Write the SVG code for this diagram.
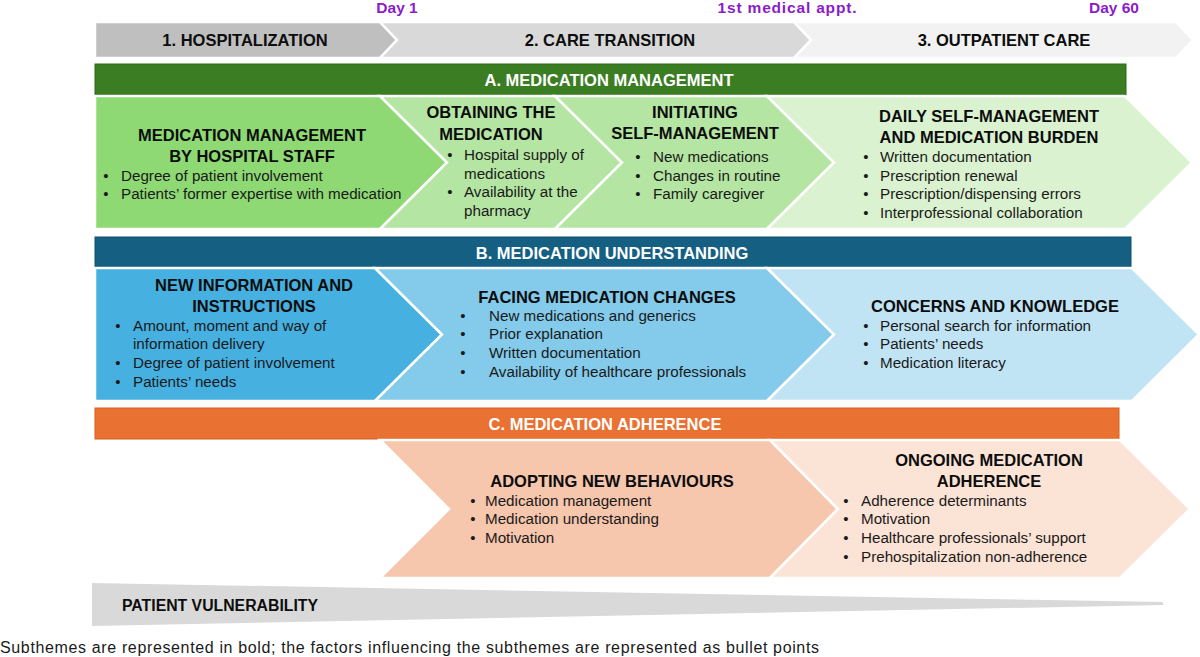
<svg xmlns="http://www.w3.org/2000/svg" width="1200" height="657" viewBox="0 0 1200 657">
<style>
text{font-family:"Liberation Sans",Arial,sans-serif}
.ph{font-size:16.5px;font-weight:bold;fill:#0d0d0d;text-anchor:middle}
.day{font-size:15.5px;font-weight:bold;fill:#8b1cc8;text-anchor:middle}
.band{font-size:16.5px;font-weight:bold;fill:#fff;text-anchor:middle}
.ti{font-size:16.5px;font-weight:bold;fill:#0d0d0d;text-anchor:middle}
.bu{font-size:15.2px;fill:#1a1a1a}
.dot{font-size:15px;fill:#1a1a1a;text-anchor:middle}
.chev{stroke:#fff;stroke-width:2.5;stroke-linejoin:miter}
</style>
<rect width="1200" height="657" fill="#fff"/>

<g id="phases">
<polygon class="chev" points="95,22 380,22 397,40 380,58 95,58" fill="#bfbfbf"/>
<polygon class="chev" points="380,22 794,22 811,40 794,58 380,58 397,40" fill="#d9d9d9"/>
<polygon class="chev" points="794,22 1176,22 1193,40 1176,58 794,58 811,40" fill="#f2f2f2"/>
<text class="ph" x="245" y="46">1. HOSPITALIZATION</text>
<text class="ph" x="610" y="46">2. CARE TRANSITION</text>
<text class="ph" x="1004" y="46">3. OUTPATIENT CARE</text>
<text class="day" x="397" y="13">Day 1</text>
<text class="day" x="787" y="13" textLength="139">1st medical appt.</text>
<text class="day" x="1114" y="13">Day 60</text>
</g>

<g id="bandA">
<rect x="95" y="64" width="1031" height="31" fill="#3b7d23" stroke="#2f6a1b" stroke-width="1"/>
<text class="band" x="609" y="86">A. MEDICATION MANAGEMENT</text>
</g>
<g id="A1">
<polygon class="chev" points="95,96 380,96 447,162.5 380,229 95,229" fill="#8ed973"/>
<text class="ti" x="252" y="141">MEDICATION MANAGEMENT</text>
<text class="ti" x="252" y="162">BY HOSPITAL STAFF</text>
<text class="dot" x="106" y="181">•</text><text class="bu" x="121" y="181">Degree of patient involvement</text>
<text class="dot" x="106" y="199">•</text><text class="bu" x="121" y="199">Patients’ former expertise with medication</text>
</g>
<g id="A2">
<polygon class="chev" points="380,96 555,96 622,162.5 555,229 380,229 447,162.5" fill="#b4e5a2"/>
<text class="ti" x="491" y="118">OBTAINING THE</text>
<text class="ti" x="491" y="140">MEDICATION</text>
<text class="dot" x="450" y="160">•</text><text class="bu" x="464" y="160">Hospital supply of</text>
<text class="bu" x="464" y="178.5">medications</text>
<text class="dot" x="450" y="197">•</text><text class="bu" x="464" y="197">Availability at the</text>
<text class="bu" x="464" y="215.5">pharmacy</text>
</g>
<g id="A3">
<polygon class="chev" points="555,96 767,96 834,162.5 767,229 555,229 622,162.5" fill="#b4e5a2"/>
<text class="ti" x="695" y="118">INITIATING</text>
<text class="ti" x="695" y="139">SELF-MANAGEMENT</text>
<text class="dot" x="638" y="162">•</text><text class="bu" x="653" y="162">New medications</text>
<text class="dot" x="638" y="181">•</text><text class="bu" x="653" y="181">Changes in routine</text>
<text class="dot" x="638" y="199">•</text><text class="bu" x="653" y="199">Family caregiver</text>
</g>
<g id="A4">
<polygon class="chev" points="767,96 1125,96 1192,162.5 1125,229 767,229 834,162.5" fill="#daf2d0"/>
<text class="ti" x="989" y="122">DAILY SELF-MANAGEMENT</text>
<text class="ti" x="989" y="143">AND MEDICATION BURDEN</text>
<text class="dot" x="866" y="162">•</text><text class="bu" x="880" y="162">Written documentation</text>
<text class="dot" x="866" y="181">•</text><text class="bu" x="880" y="181">Prescription renewal</text>
<text class="dot" x="866" y="199">•</text><text class="bu" x="880" y="199">Prescription/dispensing errors</text>
<text class="dot" x="866" y="218">•</text><text class="bu" x="880" y="218">Interprofessional collaboration</text>
</g>

<g id="bandB">
<rect x="95" y="237" width="1036" height="30" fill="#156082" stroke="#114f6c" stroke-width="1"/>
<text class="band" x="612" y="259">B. MEDICATION UNDERSTANDING</text>
</g>
<g id="B1">
<polygon class="chev" points="95,268 375,268 442,334.5 375,401 95,401" fill="#46b0e1"/>
<text class="ti" x="254" y="291">NEW INFORMATION AND</text>
<text class="ti" x="254" y="312">INSTRUCTIONS</text>
<text class="dot" x="118" y="331">•</text><text class="bu" x="133" y="331">Amount, moment and way of</text>
<text class="bu" x="133" y="349">information delivery</text>
<text class="dot" x="118" y="368">•</text><text class="bu" x="133" y="368">Degree of patient involvement</text>
<text class="dot" x="118" y="387">•</text><text class="bu" x="133" y="387">Patients’ needs</text>
</g>
<g id="B2">
<polygon class="chev" points="375,268 767,268 834,334.5 767,401 375,401 442,334.5" fill="#83caeb"/>
<text class="ti" x="607" y="303">FACING MEDICATION CHANGES</text>
<text class="dot" x="463" y="321">•</text><text class="bu" x="489" y="321">New medications and generics</text>
<text class="dot" x="463" y="339">•</text><text class="bu" x="489" y="339">Prior explanation</text>
<text class="dot" x="463" y="358">•</text><text class="bu" x="489" y="358">Written documentation</text>
<text class="dot" x="463" y="377">•</text><text class="bu" x="489" y="377">Availability of healthcare professionals</text>
</g>
<g id="B3">
<polygon class="chev" points="767,268 1132,268 1199,334.5 1132,401 767,401 834,334.5" fill="#c1e4f5"/>
<text class="ti" x="995" y="312">CONCERNS AND KNOWLEDGE</text>
<text class="dot" x="866" y="331">•</text><text class="bu" x="880" y="331">Personal search for information</text>
<text class="dot" x="866" y="349">•</text><text class="bu" x="880" y="349">Patients’ needs</text>
<text class="dot" x="866" y="368">•</text><text class="bu" x="880" y="368">Medication literacy</text>
</g>

<g id="bandC">
<rect x="95" y="408" width="1024" height="31" fill="#e97132" stroke="#d85e1f" stroke-width="1"/>
<text class="band" x="605" y="430">C. MEDICATION ADHERENCE</text>
</g>
<g id="C1">
<polygon class="chev" points="380,440 770,440 838,509 770,578 380,578 449,509" fill="#f6c6ad"/>
<text class="ti" x="612" y="487">ADOPTING NEW BEHAVIOURS</text>
<text class="dot" x="473" y="506">•</text><text class="bu" x="485" y="506">Medication management</text>
<text class="dot" x="473" y="524">•</text><text class="bu" x="485" y="524">Medication understanding</text>
<text class="dot" x="473" y="543">•</text><text class="bu" x="485" y="543">Motivation</text>
</g>
<g id="C2">
<polygon class="chev" points="770,440 1120,440 1190,509 1120,578 770,578 838,509" fill="#fbe3d6"/>
<text class="ti" x="989" y="466">ONGOING MEDICATION</text>
<text class="ti" x="989" y="487">ADHERENCE</text>
<text class="dot" x="846" y="506">•</text><text class="bu" x="861" y="506">Adherence determinants</text>
<text class="dot" x="846" y="524">•</text><text class="bu" x="861" y="524">Motivation</text>
<text class="dot" x="846" y="543">•</text><text class="bu" x="861" y="543">Healthcare professionals’ support</text>
<text class="dot" x="846" y="562">•</text><text class="bu" x="861" y="562">Prehospitalization non-adherence</text>
</g>

<g id="vulnerability">
<polygon points="92,583 1163,602 1163,605 92,626" fill="#d9d9d9"/>
<text x="122" y="611" font-size="15.8" font-weight="bold" fill="#0d0d0d">PATIENT VULNERABILITY</text>
</g>

<g id="connectors"></g>

<text x="0" y="653" font-size="16" fill="#1a1a1a" textLength="819">Subthemes are represented in bold; the factors influencing the subthemes are represented as bullet points</text>
</svg>
